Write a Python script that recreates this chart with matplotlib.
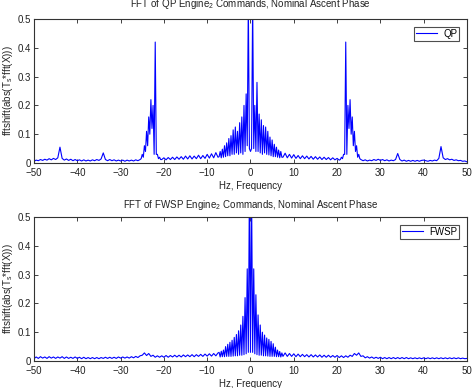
import numpy as np
import matplotlib
matplotlib.use("Agg")
import matplotlib.pyplot as plt

plt.rcParams['font.family'] = ['Liberation Sans', 'DejaVu Sans']
plt.rcParams['mathtext.default'] = 'regular'

# ---------------- QP spectrum (segments: start, step, magnitudes) ----------------
qp_a_start, qp_a_step = -50.0, 0.5
qp_a = [0.006, 0.010, 0.008, 0.012, 0.009, 0.013, 0.010, 0.015, 0.011, 0.016,
        0.012, 0.018, 0.055, 0.016, 0.010, 0.014, 0.009, 0.013, 0.008, 0.012,
        0.008, 0.011, 0.007, 0.011, 0.007, 0.010, 0.007, 0.011, 0.008, 0.012,
        0.009, 0.014, 0.035, 0.012, 0.008, 0.012, 0.008, 0.011, 0.007, 0.010,
        0.007, 0.010, 0.006, 0.010, 0.007, 0.010, 0.007, 0.011, 0.008, 0.012]
qp_b_start, qp_b_step = -25.25, 0.25
qp_b = [0.015, 0.030, 0.020, 0.060, 0.040, 0.110, 0.060, 0.160, 0.100, 0.220,
        0.120, 0.200, 0.030, 0.420, 0.030, 0.030, 0.015, 0.020, 0.012]
qp_c_start, qp_c_step = -20.5, 0.5
qp_c = [0.012, 0.018, 0.011, 0.019, 0.012, 0.020, 0.012, 0.021, 0.013, 0.022,
        0.013, 0.024, 0.014, 0.025, 0.014, 0.024, 0.015, 0.027, 0.015, 0.026,
        0.016, 0.030, 0.017, 0.032, 0.018, 0.036, 0.020]
qp_d_start, qp_d_step = -7.25, 0.25
qp_d = [0.022, 0.040, 0.018, 0.048, 0.020, 0.060, 0.022, 0.070, 0.025, 0.085,
        0.025, 0.095, 0.030, 0.115, 0.030, 0.125, 0.035, 0.110, 0.030, 0.140,
        0.035, 0.160, 0.030, 0.200, 0.040, 0.240, 0.060, 0.560, 0.050,
        0.040,
        0.050, 0.560, 0.050, 0.200, 0.040, 0.280, 0.040, 0.170, 0.035, 0.150,
        0.030, 0.130, 0.035, 0.125, 0.030, 0.110, 0.028, 0.090, 0.025, 0.080,
        0.022, 0.065, 0.022, 0.055, 0.020, 0.045, 0.018, 0.040, 0.020]
qp_e_start, qp_e_step = 7.5, 0.5
qp_e = [0.020, 0.034, 0.018, 0.030, 0.017, 0.029, 0.016, 0.026, 0.015, 0.025,
        0.015, 0.024, 0.014, 0.023, 0.013, 0.022, 0.013, 0.021, 0.012, 0.020,
        0.012, 0.019, 0.011, 0.018, 0.011, 0.016, 0.010]
qp_f_start, qp_f_step = 20.75, 0.25
qp_f = [0.012, 0.020, 0.015, 0.030, 0.030, 0.420, 0.030, 0.200, 0.120, 0.220,
        0.100, 0.160, 0.060, 0.110, 0.040, 0.060, 0.020, 0.030, 0.015]
qp_g_start, qp_g_step = 25.5, 0.5
qp_g = [0.012, 0.008, 0.011, 0.007, 0.010, 0.008, 0.012, 0.009, 0.013, 0.009,
        0.012, 0.008, 0.011, 0.007, 0.010, 0.008, 0.012, 0.033, 0.012, 0.007,
        0.010, 0.006, 0.009, 0.006, 0.009, 0.006, 0.009, 0.006, 0.009, 0.010,
        0.008, 0.006, 0.009, 0.007, 0.010, 0.008, 0.016, 0.057, 0.018, 0.012,
        0.015, 0.011, 0.013, 0.009, 0.011, 0.008, 0.009, 0.006, 0.007, 0.004]

# ---------------- FWSP spectrum ----------------
fw_a_start, fw_a_step = -50.0, 0.5
fw_a = [0.008, 0.014, 0.009, 0.015, 0.010, 0.014, 0.009, 0.015, 0.010, 0.014,
        0.009, 0.014, 0.010, 0.015, 0.009, 0.014, 0.009, 0.013, 0.009, 0.014,
        0.009, 0.013, 0.008, 0.013, 0.008, 0.012, 0.008, 0.012, 0.008, 0.012,
        0.008, 0.012, 0.009, 0.013, 0.009, 0.013, 0.009, 0.013, 0.009, 0.014,
        0.010, 0.014, 0.010, 0.014, 0.010, 0.015, 0.011, 0.016, 0.012, 0.018,
        0.020, 0.028, 0.019, 0.026, 0.016, 0.020, 0.013, 0.018, 0.013, 0.018,
        0.013, 0.019, 0.013, 0.019, 0.014, 0.020, 0.014, 0.020, 0.014, 0.021,
        0.015, 0.021, 0.015, 0.022, 0.015, 0.022, 0.016, 0.023, 0.016, 0.024,
        0.017, 0.025, 0.017, 0.026, 0.018, 0.028]
fw_d_start, fw_d_step = -7.25, 0.25
fw_d = [0.030, 0.014, 0.034, 0.015, 0.038, 0.015, 0.050, 0.016, 0.058, 0.016,
        0.065, 0.016, 0.072, 0.017, 0.082, 0.018, 0.092, 0.018, 0.105, 0.020,
        0.125, 0.020, 0.155, 0.022, 0.220, 0.025, 0.320, 0.030, 0.600,
        0.030,
        0.600, 0.030, 0.320, 0.025, 0.230, 0.022, 0.160, 0.020, 0.125, 0.020,
        0.100, 0.018, 0.090, 0.018, 0.080, 0.017, 0.075, 0.016, 0.068, 0.016,
        0.060, 0.016, 0.048, 0.015, 0.038, 0.015, 0.033, 0.014, 0.028]
fw_e_start, fw_e_step = 7.5, 0.5
fw_e = [0.016, 0.028, 0.016, 0.026, 0.016, 0.025, 0.015, 0.024, 0.015, 0.023,
        0.015, 0.022, 0.014, 0.022, 0.014, 0.021, 0.014, 0.021, 0.013, 0.020,
        0.013, 0.020, 0.013, 0.019, 0.013, 0.019, 0.012, 0.018, 0.012, 0.018,
        0.013, 0.020, 0.016, 0.026, 0.020, 0.028, 0.016, 0.018, 0.011, 0.015,
        0.010, 0.014, 0.009, 0.013, 0.009, 0.013, 0.008, 0.012, 0.008, 0.012,
        0.008, 0.012, 0.008, 0.012, 0.008, 0.012, 0.008, 0.012, 0.008, 0.011,
        0.008, 0.011, 0.008, 0.011, 0.008, 0.011, 0.008, 0.011, 0.008, 0.011,
        0.008, 0.011, 0.008, 0.011, 0.008, 0.011, 0.008, 0.011, 0.008, 0.011,
        0.008, 0.011, 0.008, 0.010, 0.008, 0.009]

x_ticks = [-50, -40, -30, -20, -10, 0, 10, 20, 30, 40, 50]
y_ticks = [0, 0.1, 0.2, 0.3, 0.4, 0.5]
y_ticklabels = ['0', '0.1', '0.2', '0.3', '0.4', '0.5']
titles = [r'FFT of QP Engine$_2$ Commands, Nominal Ascent Phase',
          r'FFT of FWSP Engine$_2$ Commands, Nominal Ascent Phase']
series_names = ['QP', 'FWSP']
xlabel = 'Hz, Frequency'
ylabel = r'fftshift(abs(T$_s$*fft(X)))'


def build(segments):
    fs, ms = [], []
    for start, step, vals in segments:
        fs.append(start + step * np.arange(len(vals)))
        ms.append(np.asarray(vals))
    return np.concatenate(fs), np.concatenate(ms)


qp_freq, qp_mag = build([(qp_a_start, qp_a_step, qp_a), (qp_b_start, qp_b_step, qp_b),
                         (qp_c_start, qp_c_step, qp_c), (qp_d_start, qp_d_step, qp_d),
                         (qp_e_start, qp_e_step, qp_e), (qp_f_start, qp_f_step, qp_f),
                         (qp_g_start, qp_g_step, qp_g)])
fw_freq, fw_mag = build([(fw_a_start, fw_a_step, fw_a), (fw_d_start, fw_d_step, fw_d),
                         (fw_e_start, fw_e_step, fw_e)])

fig = plt.figure(figsize=(4.74, 3.88), dpi=100)
ax1 = fig.add_axes([0.0717, 0.5799, 0.9135, 0.3711])
ax2 = fig.add_axes([0.0717, 0.0696, 0.9135, 0.3711])

for ax, (fr, mg), title, name, tpad in zip([ax1, ax2],
                                           [(qp_freq, qp_mag), (fw_freq, fw_mag)],
                                           titles, series_names, [8.5, 6.5]):
    ax.plot(fr, mg, color='#0000ff', lw=0.8, label=name)
    ax.set_xlim(-50, 50)
    ax.set_ylim(0, 0.5)
    ax.set_xticks(x_ticks)
    ax.set_yticks(y_ticks)
    ax.set_yticklabels(y_ticklabels)
    ax.tick_params(direction='in', top=True, right=True, length=3, width=0.6,
                   labelsize=7, colors='#222222')
    ax.tick_params(axis='x', pad=3.5)
    ax.tick_params(axis='y', pad=2)
    for s in ax.spines.values():
        s.set_linewidth(0.8)
        s.set_color('#333333')
    ax.set_title(title, fontsize=7, pad=tpad, color='#222222')
    ax.set_xlabel(xlabel, fontsize=7, labelpad=2, color='#222222')
    ax.set_ylabel(ylabel, fontsize=7, labelpad=2, color='#222222')
    leg = ax.legend(loc='upper right', fontsize=7, frameon=True, fancybox=False,
                    handlelength=2.2, borderpad=0.2, borderaxespad=0.8,
                    handletextpad=0.6)
    leg.get_frame().set_edgecolor('#222222')
    leg.get_frame().set_linewidth(0.8)

fig.savefig('out.png', dpi=100)
